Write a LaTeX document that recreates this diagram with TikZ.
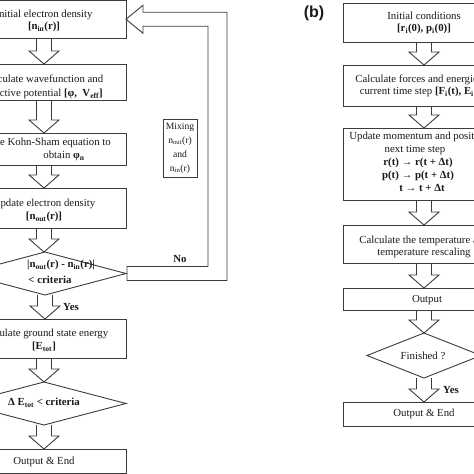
\documentclass[tikz,border=0pt]{standalone}
\usepackage{fontspec}
\setmainfont{Liberation Serif}
\newfontfamily\labelfont{Liberation Sans}
\usetikzlibrary{shapes.geometric,calc}
\definecolor{linec}{HTML}{3C3C3C}
\definecolor{textc}{HTML}{1A1A1A}
\newcommand\fsA{\fontsize{10.8}{13.5}\selectfont}
\newcommand\fsB{\fontsize{10.8}{12}\selectfont}
\newcommand\fsC{\fontsize{9.6}{14}\selectfont}
\newcommand\blockarr[2]{\draw[line] let \p1=(#1.south), \p2=(#2.north) in
  (\x1-7.5pt,\y1) -- (\x1-7.5pt,\y2+13pt) -- (\x1-15pt,\y2+13pt) -- (\x1,\y2)
  -- (\x1+15pt,\y2+13pt) -- (\x1+7.5pt,\y2+13pt) -- (\x1+7.5pt,\y1);}
\begin{document}
\begin{tikzpicture}[x=1pt,y=-1pt,
  line/.style={draw=linec, line width=0.9pt},
  lbox/.style={line, rectangle, inner sep=0pt, outer sep=0pt, minimum width=164pt},
  rbox/.style={line, rectangle, inner sep=0pt, outer sep=0pt, minimum width=162pt},
  dbox/.style={line, diamond, inner sep=0pt, outer sep=0pt},
  txt/.style={font=\fsA, align=center, inner sep=0pt, text=textc},
  txtB/.style={font=\fsB, align=center, inner sep=0pt, text=textc}]
\useasboundingbox (0,0) rectangle (474,474);
\fill[white] (0,0) rectangle (474,474);
\clip (0,0) rectangle (474,474);

% ---------- left panel ----------
\node[lbox, minimum height=37.5pt] (L1) at (44,19.25) {};
\node[lbox, minimum height=36pt] (L2) at (44,82) {};
\node[lbox, minimum height=32pt] (L3) at (44,149) {};
\node[lbox, minimum height=40pt] (L4) at (44,208) {};
\node[dbox, minimum width=162pt, minimum height=43pt] (D1) at (45,273.5) {};
\node[lbox, minimum height=39pt] (L5) at (44,338.5) {};
\node[dbox, minimum width=164pt, minimum height=43pt] (D2) at (44,403.5) {};
\node[lbox, minimum height=24pt] (L6) at (44,461) {};

\node[txtB] (t1) at (44,21) {Initial electron density\\ \textbf{[n\textsubscript{in}(r)]}};
\node[txt] (t2) at (43,87) {Calculate wavefunction and\\ effective potential \textbf{[φ,\ \ V\textsubscript{eff}]}};
\node[txt, anchor=east] (t3a) at (111,143) {Solve the Kohn-Sham equation to};
\node[txt] (t3b) at (64,156) {obtain \textbf{φ\textsubscript{n}}};
\node[txt] (t4) at (44,210.5) {Update electron density\\ \textbf{[n\textsubscript{out}(r)]}};
\node[txt] (t5a) at (61,265) {\textbf{|n\textsubscript{out}(r) - n\textsubscript{in}(r)|}};
\node[txt] (t5b) at (50,280) {\textbf{< criteria}};
\node[txt] (t6) at (44,340) {Calculate ground state energy\\ \textbf{[E\textsubscript{tot}]}};
\node[txt] (t7) at (44,403) {\textbf{Δ E\textsubscript{tot} < criteria}};
\node[txt] (t8) at (44,462) {Output \& End};

\blockarr{L1}{L2}
\blockarr{L2}{L3}
\blockarr{L3}{L4}
\blockarr{L4}{D1}
\blockarr{D1}{L5}
\blockarr{L5}{D2}
\blockarr{D2}{L6}

% feedback channel
\draw[line] ($(D1.east)+(1,-7)$) -- ++(81,0) |- ($(L1.east)+(17,7)$) -- ++(0,7)
  -- (L1.east) -- ++(17,-14) -- ++(0,7) -| ($(D1.east)+(101,7)$)
  -- ($(D1.east)+(1,7)$) -- cycle;

\node[line, rectangle, inner sep=0pt, minimum width=34pt, minimum height=58pt,
  font=\fsC, align=center, text=textc] (mix) at (180,148)
  {Mixing\\ n\textsubscript{out}(r)\\ and\\ n\textsubscript{in}(r)};
\node[txt] (no) at (180,259) {\textbf{No}};
\node[txt] (yes1) at (71,307) {\textbf{Yes}};

% ---------- right panel ----------
\node[font=\labelfont\bfseries\fontsize{16}{18}\selectfont, inner sep=0pt, text=textc] (b) at (314,13) {(b)};

\node[rbox, minimum height=39pt] (R1) at (424,22.5) {};
\node[rbox, minimum height=41pt] (R2) at (424,85.5) {};
\node[rbox, minimum height=72pt] (R3) at (424,164) {};
\node[rbox, minimum height=38pt] (R4) at (424,244) {};
\node[rbox, minimum height=22pt] (R5) at (424,299) {};
\node[dbox, minimum width=114pt, minimum height=45pt] (RD) at (424,355.5) {};
\node[rbox, minimum height=24pt] (R6) at (424,414) {};

\node[txtB] (s1) at (424,23) {Initial conditions\\ \textbf{[r\textsubscript{i}(0), p\textsubscript{i}(0)]}};
\node[txtB] (s2) at (424,86) {Calculate forces and energies at\\ current time step \textbf{[F\textsubscript{i}(t), E\textsubscript{i}(t)]}};
\node[txt] (s3a) at (424,137) {Update momentum and position at};
\node[txt] (s3b) at (415,150) {next time step};
\node[txt] (s3c) at (418,163) {\textbf{r(t) → r(t + Δt)}};
\node[txt] (s3d) at (418,176) {\textbf{p(t) → p(t + Δt)}};
\node[txt] (s3e) at (422,188) {\textbf{t → t + Δt}};
\node[txtB] (s4) at (424,247) {Calculate the temperature and\\ temperature rescaling};
\node[txt] (s5) at (427,300) {Output};
\node[txt] (s6) at (423,356) {Finished ?};
\node[txt] (s7) at (424,414) {Output \& End};
\node[txt] (yes2) at (451,390) {\textbf{Yes}};

\blockarr{R1}{R2}
\blockarr{R2}{R3}
\blockarr{R3}{R4}
\blockarr{R4}{R5}
\blockarr{R5}{RD}
\blockarr{RD}{R6}
\end{tikzpicture}
\end{document}
